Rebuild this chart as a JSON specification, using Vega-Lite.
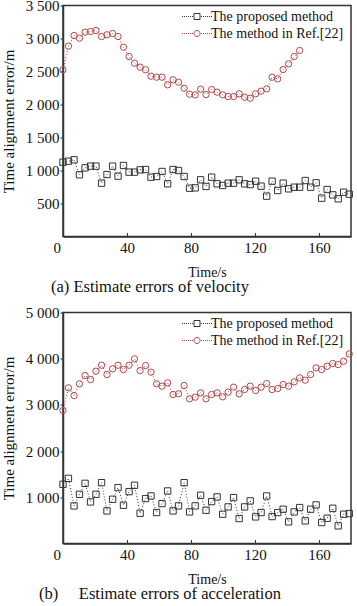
{
  "$schema": "https://vega.github.io/schema/vega-lite/v6.json",
  "background": "white",
  "padding": {"left": 0, "top": -2.5, "right": 5, "bottom": 0},
  "spacing": 8,
  "config": {
    "font": "Liberation Serif",
    "view": {"stroke": "#333333", "strokeWidth": 1.5},
    "axis": {"domainColor": "#333333", "domainWidth": 1.5, "tickColor": "#333333", "labelColor": "#111111", "titleColor": "#111111", "labelFont": "Liberation Serif", "titleFont": "Liberation Serif", "labelFontSize": 15, "titleFontSize": 14, "titleFontWeight": "normal", "grid": false, "labelOverlap": false},
    "legend": {"title": null, "orient": "none", "padding": 0, "labelFont": "Liberation Serif", "labelFontSize": 14, "labelColor": "#111111", "labelLimit": 300, "symbolSize": 36, "symbolStrokeWidth": 1, "symbolOffset": 8, "labelOffset": 7},
    "title": {"font": "Liberation Serif", "fontSize": 16.5, "fontWeight": "normal", "color": "#111111", "orient": "bottom", "anchor": "start", "frame": "group", "offset": -1}
  },
  "resolve": {"scale": {"color": "independent", "stroke": "independent", "x": "independent", "y": "independent"}, "legend": {"color": "independent", "stroke": "independent"}},
  "datasets": {
    "vel": [
      {"t":0,"method":"The proposed method","v":1126},{"t":3.4,"method":"The proposed method","v":1141},{"t":6.9,"method":"The proposed method","v":1162},{"t":10.3,"method":"The proposed method","v":935},{"t":13.8,"method":"The proposed method","v":1040},{"t":17.2,"method":"The proposed method","v":1066},{"t":20.6,"method":"The proposed method","v":1066},{"t":24.1,"method":"The proposed method","v":808},{"t":27.5,"method":"The proposed method","v":939},{"t":31.0,"method":"The proposed method","v":1066},{"t":34.4,"method":"The proposed method","v":914},{"t":37.8,"method":"The proposed method","v":1076},{"t":41.3,"method":"The proposed method","v":975},{"t":44.7,"method":"The proposed method","v":975},{"t":48.2,"method":"The proposed method","v":1010},{"t":51.6,"method":"The proposed method","v":1015},{"t":55.0,"method":"The proposed method","v":899},{"t":58.5,"method":"The proposed method","v":909},{"t":61.9,"method":"The proposed method","v":985},{"t":65.4,"method":"The proposed method","v":798},{"t":68.8,"method":"The proposed method","v":1015},{"t":72.2,"method":"The proposed method","v":1000},{"t":75.7,"method":"The proposed method","v":909},{"t":79.1,"method":"The proposed method","v":732},{"t":82.6,"method":"The proposed method","v":737},{"t":86.0,"method":"The proposed method","v":859},{"t":89.4,"method":"The proposed method","v":758},{"t":92.9,"method":"The proposed method","v":899},{"t":96.3,"method":"The proposed method","v":798},{"t":99.8,"method":"The proposed method","v":773},{"t":103.2,"method":"The proposed method","v":808},{"t":106.6,"method":"The proposed method","v":808},{"t":110.1,"method":"The proposed method","v":859},{"t":113.5,"method":"The proposed method","v":798},{"t":117.0,"method":"The proposed method","v":787},{"t":120.4,"method":"The proposed method","v":838},{"t":123.8,"method":"The proposed method","v":763},{"t":127.3,"method":"The proposed method","v":611},{"t":130.7,"method":"The proposed method","v":838},{"t":134.2,"method":"The proposed method","v":697},{"t":137.6,"method":"The proposed method","v":808},{"t":141.0,"method":"The proposed method","v":722},{"t":144.5,"method":"The proposed method","v":747},{"t":147.9,"method":"The proposed method","v":747},{"t":151.4,"method":"The proposed method","v":848},{"t":154.8,"method":"The proposed method","v":747},{"t":158.2,"method":"The proposed method","v":813},{"t":161.7,"method":"The proposed method","v":581},{"t":165.1,"method":"The proposed method","v":712},{"t":168.6,"method":"The proposed method","v":631},{"t":172.0,"method":"The proposed method","v":571},{"t":175.4,"method":"The proposed method","v":671},{"t":178.9,"method":"The proposed method","v":641},
      {"t":0,"method":"The method in Ref.[22]","v":2526},{"t":3.4,"method":"The method in Ref.[22]","v":2884},{"t":6.9,"method":"The method in Ref.[22]","v":3045},{"t":10.3,"method":"The method in Ref.[22]","v":3005},{"t":13.8,"method":"The method in Ref.[22]","v":3096},{"t":17.2,"method":"The method in Ref.[22]","v":3106},{"t":20.6,"method":"The method in Ref.[22]","v":3121},{"t":24.1,"method":"The method in Ref.[22]","v":3030},{"t":27.5,"method":"The method in Ref.[22]","v":3056},{"t":31.0,"method":"The method in Ref.[22]","v":3076},{"t":34.4,"method":"The method in Ref.[22]","v":3030},{"t":37.8,"method":"The method in Ref.[22]","v":2868},{"t":41.3,"method":"The method in Ref.[22]","v":2727},{"t":44.7,"method":"The method in Ref.[22]","v":2626},{"t":48.2,"method":"The method in Ref.[22]","v":2566},{"t":51.6,"method":"The method in Ref.[22]","v":2526},{"t":55.0,"method":"The method in Ref.[22]","v":2429},{"t":58.5,"method":"The method in Ref.[22]","v":2414},{"t":61.9,"method":"The method in Ref.[22]","v":2414},{"t":65.4,"method":"The method in Ref.[22]","v":2298},{"t":68.8,"method":"The method in Ref.[22]","v":2374},{"t":72.2,"method":"The method in Ref.[22]","v":2338},{"t":75.7,"method":"The method in Ref.[22]","v":2247},{"t":79.1,"method":"The method in Ref.[22]","v":2156},{"t":82.6,"method":"The method in Ref.[22]","v":2146},{"t":86.0,"method":"The method in Ref.[22]","v":2232},{"t":89.4,"method":"The method in Ref.[22]","v":2151},{"t":92.9,"method":"The method in Ref.[22]","v":2227},{"t":96.3,"method":"The method in Ref.[22]","v":2187},{"t":99.8,"method":"The method in Ref.[22]","v":2146},{"t":103.2,"method":"The method in Ref.[22]","v":2121},{"t":106.6,"method":"The method in Ref.[22]","v":2121},{"t":110.1,"method":"The method in Ref.[22]","v":2162},{"t":113.5,"method":"The method in Ref.[22]","v":2111},{"t":117.0,"method":"The method in Ref.[22]","v":2095},{"t":120.4,"method":"The method in Ref.[22]","v":2162},{"t":123.8,"method":"The method in Ref.[22]","v":2202},{"t":127.3,"method":"The method in Ref.[22]","v":2237},{"t":130.7,"method":"The method in Ref.[22]","v":2414},{"t":134.2,"method":"The method in Ref.[22]","v":2389},{"t":137.6,"method":"The method in Ref.[22]","v":2530},{"t":141.0,"method":"The method in Ref.[22]","v":2616},{"t":144.5,"method":"The method in Ref.[22]","v":2727},{"t":147.9,"method":"The method in Ref.[22]","v":2818}
    ],
    "acc": [
      {"t":0,"method":"The proposed method","v":1281},{"t":3.4,"method":"The proposed method","v":1410},{"t":6.9,"method":"The proposed method","v":814},{"t":10.3,"method":"The proposed method","v":1065},{"t":13.8,"method":"The proposed method","v":1302},{"t":17.2,"method":"The proposed method","v":900},{"t":20.6,"method":"The proposed method","v":1065},{"t":24.1,"method":"The proposed method","v":1317},{"t":27.5,"method":"The proposed method","v":706},{"t":31.0,"method":"The proposed method","v":957},{"t":34.4,"method":"The proposed method","v":1209},{"t":37.8,"method":"The proposed method","v":828},{"t":41.3,"method":"The proposed method","v":1123},{"t":44.7,"method":"The proposed method","v":1260},{"t":48.2,"method":"The proposed method","v":655},{"t":51.6,"method":"The proposed method","v":972},{"t":55.0,"method":"The proposed method","v":1029},{"t":58.5,"method":"The proposed method","v":670},{"t":61.9,"method":"The proposed method","v":864},{"t":65.4,"method":"The proposed method","v":1137},{"t":68.8,"method":"The proposed method","v":706},{"t":72.2,"method":"The proposed method","v":814},{"t":75.7,"method":"The proposed method","v":1317},{"t":79.1,"method":"The proposed method","v":684},{"t":82.6,"method":"The proposed method","v":814},{"t":86.0,"method":"The proposed method","v":1044},{"t":89.4,"method":"The proposed method","v":720},{"t":92.9,"method":"The proposed method","v":907},{"t":96.3,"method":"The proposed method","v":1008},{"t":99.8,"method":"The proposed method","v":634},{"t":103.2,"method":"The proposed method","v":792},{"t":106.6,"method":"The proposed method","v":994},{"t":110.1,"method":"The proposed method","v":540},{"t":113.5,"method":"The proposed method","v":792},{"t":117.0,"method":"The proposed method","v":922},{"t":120.4,"method":"The proposed method","v":576},{"t":123.8,"method":"The proposed method","v":670},{"t":127.3,"method":"The proposed method","v":1029},{"t":130.7,"method":"The proposed method","v":583},{"t":134.2,"method":"The proposed method","v":670},{"t":137.6,"method":"The proposed method","v":742},{"t":141.0,"method":"The proposed method","v":468},{"t":144.5,"method":"The proposed method","v":684},{"t":147.9,"method":"The proposed method","v":778},{"t":151.4,"method":"The proposed method","v":490},{"t":154.8,"method":"The proposed method","v":742},{"t":158.2,"method":"The proposed method","v":835},{"t":161.7,"method":"The proposed method","v":454},{"t":165.1,"method":"The proposed method","v":547},{"t":168.6,"method":"The proposed method","v":763},{"t":172.0,"method":"The proposed method","v":382},{"t":175.4,"method":"The proposed method","v":634},{"t":178.9,"method":"The proposed method","v":648},
      {"t":0,"method":"The method in Ref.[22]","v":2879},{"t":3.4,"method":"The method in Ref.[22]","v":3369},{"t":6.9,"method":"The method in Ref.[22]","v":3203},{"t":10.3,"method":"The method in Ref.[22]","v":3456},{"t":13.8,"method":"The method in Ref.[22]","v":3635},{"t":17.2,"method":"The method in Ref.[22]","v":3549},{"t":20.6,"method":"The method in Ref.[22]","v":3730},{"t":24.1,"method":"The method in Ref.[22]","v":3859},{"t":27.5,"method":"The method in Ref.[22]","v":3657},{"t":31.0,"method":"The method in Ref.[22]","v":3780},{"t":34.4,"method":"The method in Ref.[22]","v":3859},{"t":37.8,"method":"The method in Ref.[22]","v":3765},{"t":41.3,"method":"The method in Ref.[22]","v":3859},{"t":44.7,"method":"The method in Ref.[22]","v":3996},{"t":48.2,"method":"The method in Ref.[22]","v":3743},{"t":51.6,"method":"The method in Ref.[22]","v":3851},{"t":55.0,"method":"The method in Ref.[22]","v":3708},{"t":58.5,"method":"The method in Ref.[22]","v":3456},{"t":61.9,"method":"The method in Ref.[22]","v":3406},{"t":65.4,"method":"The method in Ref.[22]","v":3477},{"t":68.8,"method":"The method in Ref.[22]","v":3225},{"t":72.2,"method":"The method in Ref.[22]","v":3240},{"t":75.7,"method":"The method in Ref.[22]","v":3419},{"t":79.1,"method":"The method in Ref.[22]","v":3132},{"t":82.6,"method":"The method in Ref.[22]","v":3168},{"t":86.0,"method":"The method in Ref.[22]","v":3261},{"t":89.4,"method":"The method in Ref.[22]","v":3132},{"t":92.9,"method":"The method in Ref.[22]","v":3225},{"t":96.3,"method":"The method in Ref.[22]","v":3261},{"t":99.8,"method":"The method in Ref.[22]","v":3175},{"t":103.2,"method":"The method in Ref.[22]","v":3276},{"t":106.6,"method":"The method in Ref.[22]","v":3384},{"t":110.1,"method":"The method in Ref.[22]","v":3240},{"t":113.5,"method":"The method in Ref.[22]","v":3333},{"t":117.0,"method":"The method in Ref.[22]","v":3406},{"t":120.4,"method":"The method in Ref.[22]","v":3311},{"t":123.8,"method":"The method in Ref.[22]","v":3384},{"t":127.3,"method":"The method in Ref.[22]","v":3463},{"t":130.7,"method":"The method in Ref.[22]","v":3333},{"t":134.2,"method":"The method in Ref.[22]","v":3354},{"t":137.6,"method":"The method in Ref.[22]","v":3441},{"t":141.0,"method":"The method in Ref.[22]","v":3406},{"t":144.5,"method":"The method in Ref.[22]","v":3499},{"t":147.9,"method":"The method in Ref.[22]","v":3585},{"t":151.4,"method":"The method in Ref.[22]","v":3535},{"t":154.8,"method":"The method in Ref.[22]","v":3657},{"t":158.2,"method":"The method in Ref.[22]","v":3801},{"t":161.7,"method":"The method in Ref.[22]","v":3765},{"t":165.1,"method":"The method in Ref.[22]","v":3837},{"t":168.6,"method":"The method in Ref.[22]","v":3895},{"t":172.0,"method":"The method in Ref.[22]","v":3873},{"t":175.4,"method":"The method in Ref.[22]","v":3946},{"t":178.9,"method":"The method in Ref.[22]","v":4104}
    ]
  },
  "vconcat": [
    {
      "width": 288, "height": 231,
      "title": {"text": "(a) Estimate errors of velocity", "dx": -12},
      "data": {"name": "vel"},
      "encoding": {
        "x": {"field": "t", "type": "quantitative", "scale": {"domain": [0, 180], "nice": false},
              "axis": {"title": "Time/s", "values": [0, 40, 80, 120, 160], "tickSize": -4, "labelPadding": 8, "titlePadding": 10,
                       "labelOffset": {"condition": {"test": "datum.value === 0", "value": -10}, "value": 0}}},
        "y": {"field": "v", "type": "quantitative", "scale": {"domain": [0, 3500], "nice": false},
              "axis": {"title": "Time alignment error/m", "titleFontSize": 15, "values": [500, 1000, 1500, 2000, 2500, 3000, 3500],
                       "labelExpr": "replace(format(datum.value, ','), ',', ' ')", "tickSize": 3, "labelPadding": 1, "titlePadding": 9}}
      },
      "layer": [
        {"transform": [{"filter": {"field": "method", "equal": "The proposed method"}}],
         "mark": {"type": "point", "shape": "square", "filled": false, "strokeWidth": 1, "opacity": 1, "size": 40},
         "encoding": {"color": {"field": "method", "type": "nominal", "scale": {"domain": ["The proposed method"], "range": ["#333333"]},
                                "legend": {"legendX": 119, "legendY": 4, "symbolType": "M-5,0h0.333M-4.333,0h0.333M-3.667,0h0.333M-3,0h0.333M-2.333,0h0.333M-1.667,0h0.333M-1,-1H1V1H-1ZM1.333,0h0.333M2,0h0.333M2.667,0h0.333M3.333,0h0.333M4,0h0.333M4.667,0h0.333"}}}},
        {"transform": [{"filter": {"field": "method", "equal": "The proposed method"}}],
         "mark": {"type": "line", "strokeDash": [1, 2], "strokeWidth": 1},
         "encoding": {"color": {"field": "method", "type": "nominal", "scale": {"domain": ["The proposed method"], "range": ["#333333"]},
                                "legend": {"legendX": 119, "legendY": 4, "symbolType": "M-5,0h0.333M-4.333,0h0.333M-3.667,0h0.333M-3,0h0.333M-2.333,0h0.333M-1.667,0h0.333M-1,-1H1V1H-1ZM1.333,0h0.333M2,0h0.333M2.667,0h0.333M3.333,0h0.333M4,0h0.333M4.667,0h0.333"}}}},
        {"transform": [{"filter": {"field": "method", "equal": "The method in Ref.[22]"}}],
         "mark": {"type": "point", "shape": "circle", "filled": false, "strokeWidth": 1, "opacity": 1, "size": 40},
         "encoding": {"stroke": {"field": "method", "type": "nominal", "scale": {"domain": ["The method in Ref.[22]"], "range": ["#b0484c"]},
                                 "legend": {"legendX": 119, "legendY": 21, "symbolType": "M-5,0h0.333M-4.333,0h0.333M-3.667,0h0.333M-3,0h0.333M-2.333,0h0.333M-1.667,0h0.333M-1,0A1,1,0,1,0,1,0A1,1,0,1,0,-1,0ZM1.333,0h0.333M2,0h0.333M2.667,0h0.333M3.333,0h0.333M4,0h0.333M4.667,0h0.333"}}}},
        {"transform": [{"filter": {"field": "method", "equal": "The method in Ref.[22]"}}],
         "mark": {"type": "line", "strokeDash": [1, 2], "strokeWidth": 1},
         "encoding": {"stroke": {"field": "method", "type": "nominal", "scale": {"domain": ["The method in Ref.[22]"], "range": ["#b0484c"]},
                                 "legend": {"legendX": 119, "legendY": 21, "symbolType": "M-5,0h0.333M-4.333,0h0.333M-3.667,0h0.333M-3,0h0.333M-2.333,0h0.333M-1.667,0h0.333M-1,0A1,1,0,1,0,1,0A1,1,0,1,0,-1,0ZM1.333,0h0.333M2,0h0.333M2.667,0h0.333M3.333,0h0.333M4,0h0.333M4.667,0h0.333"}}}}
      ]
    },
    {
      "width": 288, "height": 231,
      "title": {"text": "(b)\u00a0\u00a0\u00a0\u00a0 Estimate errors of acceleration", "dx": -24},
      "data": {"name": "acc"},
      "encoding": {
        "x": {"field": "t", "type": "quantitative", "scale": {"domain": [0, 180], "nice": false},
              "axis": {"title": "Time/s", "values": [0, 40, 80, 120, 160], "tickSize": -4, "labelPadding": 8, "titlePadding": 10,
                       "labelOffset": {"condition": {"test": "datum.value === 0", "value": -10}, "value": 0}}},
        "y": {"field": "v", "type": "quantitative", "scale": {"domain": [0, 5000], "nice": false},
              "axis": {"title": "Time alignment error/m", "titleFontSize": 15, "values": [1000, 2000, 3000, 4000, 5000],
                       "labelExpr": "replace(format(datum.value, ','), ',', ' ')", "tickSize": 3, "labelPadding": 1, "titlePadding": 9}}
      },
      "layer": [
        {"transform": [{"filter": {"field": "method", "equal": "The proposed method"}}],
         "mark": {"type": "point", "shape": "square", "filled": false, "strokeWidth": 1, "opacity": 1, "size": 40},
         "encoding": {"color": {"field": "method", "type": "nominal", "scale": {"domain": ["The proposed method"], "range": ["#333333"]},
                                "legend": {"legendX": 119, "legendY": 4, "symbolType": "M-5,0h0.333M-4.333,0h0.333M-3.667,0h0.333M-3,0h0.333M-2.333,0h0.333M-1.667,0h0.333M-1,-1H1V1H-1ZM1.333,0h0.333M2,0h0.333M2.667,0h0.333M3.333,0h0.333M4,0h0.333M4.667,0h0.333"}}}},
        {"transform": [{"filter": {"field": "method", "equal": "The proposed method"}}],
         "mark": {"type": "line", "strokeDash": [1, 2], "strokeWidth": 1},
         "encoding": {"color": {"field": "method", "type": "nominal", "scale": {"domain": ["The proposed method"], "range": ["#333333"]},
                                "legend": {"legendX": 119, "legendY": 4, "symbolType": "M-5,0h0.333M-4.333,0h0.333M-3.667,0h0.333M-3,0h0.333M-2.333,0h0.333M-1.667,0h0.333M-1,-1H1V1H-1ZM1.333,0h0.333M2,0h0.333M2.667,0h0.333M3.333,0h0.333M4,0h0.333M4.667,0h0.333"}}}},
        {"transform": [{"filter": {"field": "method", "equal": "The method in Ref.[22]"}}],
         "mark": {"type": "point", "shape": "circle", "filled": false, "strokeWidth": 1, "opacity": 1, "size": 40},
         "encoding": {"stroke": {"field": "method", "type": "nominal", "scale": {"domain": ["The method in Ref.[22]"], "range": ["#b0484c"]},
                                 "legend": {"legendX": 119, "legendY": 21, "symbolType": "M-5,0h0.333M-4.333,0h0.333M-3.667,0h0.333M-3,0h0.333M-2.333,0h0.333M-1.667,0h0.333M-1,0A1,1,0,1,0,1,0A1,1,0,1,0,-1,0ZM1.333,0h0.333M2,0h0.333M2.667,0h0.333M3.333,0h0.333M4,0h0.333M4.667,0h0.333"}}}},
        {"transform": [{"filter": {"field": "method", "equal": "The method in Ref.[22]"}}],
         "mark": {"type": "line", "strokeDash": [1, 2], "strokeWidth": 1},
         "encoding": {"stroke": {"field": "method", "type": "nominal", "scale": {"domain": ["The method in Ref.[22]"], "range": ["#b0484c"]},
                                 "legend": {"legendX": 119, "legendY": 21, "symbolType": "M-5,0h0.333M-4.333,0h0.333M-3.667,0h0.333M-3,0h0.333M-2.333,0h0.333M-1.667,0h0.333M-1,0A1,1,0,1,0,1,0A1,1,0,1,0,-1,0ZM1.333,0h0.333M2,0h0.333M2.667,0h0.333M3.333,0h0.333M4,0h0.333M4.667,0h0.333"}}}}
      ]
    }
  ]
}
